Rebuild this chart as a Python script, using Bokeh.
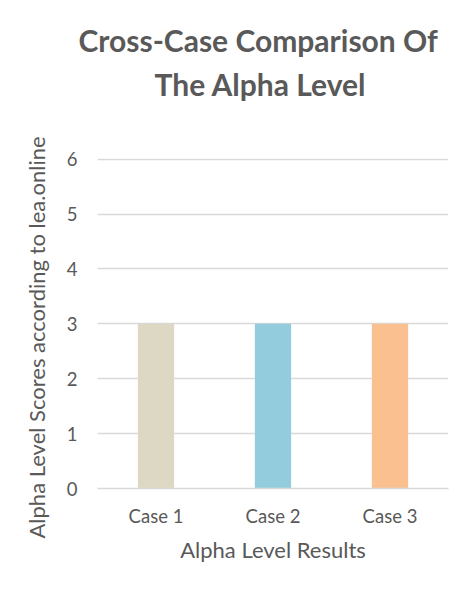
from bokeh.plotting import figure
from bokeh.models import Range1d, Title, ColumnDataSource
from bokeh.embed import file_html
from bokeh.resources import INLINE

categories = ["Case 1", "Case 2", "Case 3"]
scores = [3, 3, 3]
bar_colors = ["#ddd8c3", "#93cddd", "#fac090"]
y_ticks = [0, 1, 2, 3, 4, 5, 6]

title_lines = ["Cross-Case Comparison Of", "The Alpha Level"]
x_label = "Alpha Level Results"
y_label = "Alpha Level Scores according to lea.online"

TEXT = "#595959"
GRID = "#d9d9d9"
FONT = "Lato"

src = ColumnDataSource(dict(cat=categories, val=scores, color=bar_colors))

p = figure(width=458, height=578, x_range=categories, y_range=Range1d(0, 6.012),
           output_backend="svg", toolbar_location=None, title_location=None,
           min_border_left=97, min_border_right=10, min_border_top=158,
           min_border_bottom=90)
p.outline_line_color = None
p.background_fill_color = "white"
p.border_fill_color = "white"

p.vbar(x="cat", top="val", width=0.31, color="color", line_color=None, source=src)

p.xgrid.grid_line_color = None
p.ygrid.grid_line_color = GRID
p.ygrid.grid_line_width = 1.5
p.yaxis.ticker = y_ticks

for ax in (p.xaxis, p.yaxis):
    ax.major_tick_line_color = None
    ax.minor_tick_line_color = None
    ax.major_tick_in = 0
    ax.major_tick_out = 0
    ax.major_label_text_font = FONT
    ax.major_label_text_color = TEXT
    ax.major_label_text_font_size = "18.5px"

p.yaxis.axis_line_color = None
p.yaxis.major_label_standoff = 20
p.xaxis.axis_line_color = GRID
p.xaxis.axis_line_width = 1.5
p.xaxis.major_label_standoff = 16
p.xaxis.axis_label = x_label
p.xaxis.axis_label_standoff = 6
p.xaxis.axis_label_text_font = FONT
p.xaxis.axis_label_text_font_style = "normal"
p.xaxis.axis_label_text_font_size = "22px"
p.xaxis.axis_label_text_color = TEXT

# y-axis title as a rotated left-side title
p.add_layout(Title(text=y_label, align="left", offset=-50, standoff=28,
                   text_font=FONT, text_font_style="normal", text_font_size="22px",
                   text_color=TEXT), "left")

# chart title: spacer + two lines, stacked upward from the frame
p.add_layout(Title(text=" ", standoff=39, text_font=FONT, text_font_size="10px",
                   text_color=TEXT), "above")
p.add_layout(Title(text=title_lines[1], align="left", offset=57, standoff=8,
                   text_font=FONT, text_font_style="bold", text_font_size="30px",
                   text_color=TEXT), "above")
p.add_layout(Title(text=title_lines[0], align="left", offset=-19, standoff=2.6,
                   text_font=FONT, text_font_style="bold", text_font_size="30px",
                   text_color=TEXT), "above")

open("out.html", "w").write(file_html(p, INLINE))
